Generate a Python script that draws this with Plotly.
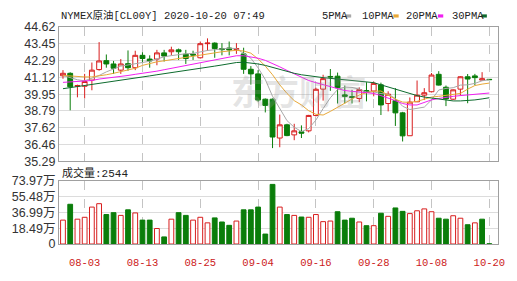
import plotly.graph_objects as go

dates = ["07-29", "07-30", "07-31", "08-03", "08-04", "08-05", "08-06", "08-07", "08-10", "08-11",
         "08-12", "08-13", "08-14", "08-17", "08-18", "08-19", "08-20", "08-21", "08-24", "08-25",
         "08-26", "08-27", "08-28", "08-31", "09-01", "09-02", "09-03", "09-04", "09-07", "09-08",
         "09-09", "09-10", "09-11", "09-14", "09-15", "09-16", "09-17", "09-18", "09-21", "09-22",
         "09-23", "09-24", "09-25", "09-28", "09-29", "09-30", "10-01", "10-02", "10-05", "10-06",
         "10-07", "10-08", "10-09", "10-12", "10-13", "10-14", "10-15", "10-16", "10-19", "10-20"]

open_ = [41.23, 41.40, 40.50, 40.50, 40.93, 41.66, 42.28, 42.05, 41.62, 42.07,
         41.79, 42.65, 42.39, 42.39, 42.82, 42.90, 43.03, 42.73, 42.73, 42.48,
         43.46, 43.50, 43.12, 43.16, 43.05, 42.75, 41.68, 41.36, 39.60, 39.60,
         36.90, 37.82, 37.12, 37.33, 37.40, 38.47, 40.30, 41.18, 41.20, 39.90,
         39.78, 39.65, 40.20, 40.17, 40.60, 39.30, 39.50, 38.65, 37.06, 39.42,
         39.88, 40.12, 41.33, 40.43, 39.60, 40.30, 41.16, 41.22, 40.93, 40.98]
high = [41.62, 41.47, 40.61, 41.36, 42.15, 43.57, 42.71, 42.26, 42.39, 42.99,
        42.97, 42.86, 42.65, 43.03, 43.03, 43.25, 43.12, 43.03, 42.97, 43.61,
        43.83, 43.55, 43.50, 43.61, 43.50, 43.18, 41.90, 41.62, 39.65, 39.65,
        38.53, 37.89, 37.89, 37.78, 38.51, 40.40, 41.30, 41.70, 41.45, 40.55,
        40.25, 40.42, 40.78, 40.82, 40.75, 40.15, 40.37, 38.72, 39.72, 40.90,
        40.37, 41.42, 41.55, 40.55, 40.28, 41.20, 41.35, 41.36, 41.48, 41.00]
low = [41.02, 38.83, 39.73, 39.65, 40.22, 41.58, 41.79, 41.36, 41.36, 41.58,
       41.62, 42.11, 41.79, 41.96, 42.22, 42.65, 42.33, 42.05, 42.33, 42.43,
       42.97, 42.48, 42.65, 42.65, 42.75, 41.36, 40.61, 39.43, 38.68, 36.20,
       36.26, 37.03, 36.75, 36.90, 37.29, 38.40, 39.50, 40.18, 39.30, 39.30,
       39.30, 39.40, 39.45, 39.80, 38.50, 38.75, 37.74, 36.66, 37.06, 39.40,
       39.54, 40.07, 40.55, 39.12, 39.54, 39.85, 39.32, 40.58, 40.90, 40.95]
close = [41.40, 40.46, 40.55, 40.83, 41.62, 42.26, 42.05, 41.75, 42.05, 41.79,
         42.65, 42.43, 42.26, 42.82, 42.60, 43.03, 42.90, 42.43, 42.67, 43.46,
         43.50, 43.12, 43.05, 43.02, 43.12, 41.68, 41.36, 39.54, 39.17, 36.97,
         37.82, 37.07, 37.40, 37.24, 38.47, 40.29, 41.03, 41.15, 40.40, 39.80,
         39.72, 40.27, 40.07, 40.70, 39.20, 39.95, 38.65, 37.05, 39.40, 39.88,
         40.05, 41.28, 40.58, 39.62, 40.25, 41.16, 41.00, 41.10, 41.02, 40.96]

# volume in 万
volume = [27.9, 46.4, 29.0, 31.2, 43.1, 47.1, 34.4, 36.6, 33.4, 39.9,
          36.3, 27.9, 27.9, 18.1, 8.3, 29.0, 36.6, 33.4, 27.9, 31.2,
          24.7, 30.5, 25.7, 21.8, 26.8, 39.9, 39.9, 43.1, 11.6, 69.6,
          43.1, 34.4, 33.4, 31.5, 31.2, 34.4, 26.1, 26.8, 37.7, 27.9,
          30.1, 25.7, 21.4, 21.4, 35.9, 32.3, 42.1, 38.1, 35.5, 38.8,
          41.0, 37.7, 30.1, 29.0, 33.0, 30.1, 22.5, 24.7, 29.0, 0.2544]

ma5 = [41.25, 41.10, 40.95, 40.88, 41.05, 41.25, 41.50, 41.70, 41.90, 41.98,
       42.06, 42.13, 42.24, 42.39, 42.55, 42.63, 42.72, 42.76, 42.78, 42.90,
       42.99, 43.04, 43.12, 43.15, 43.12, 42.80, 42.45, 41.78, 40.97, 39.80,
       38.97, 38.11, 37.65, 37.35, 37.55, 38.15, 38.95, 39.70, 40.27, 40.45,
       40.42, 40.30, 40.10, 40.11, 39.99, 39.95, 39.65, 39.11, 38.88, 38.95,
       39.05, 39.55, 40.24, 40.35, 40.40, 40.58, 40.60, 40.70, 40.88, 40.95]
ma10 = [41.25, 41.20, 41.15, 41.15, 41.15, 41.20, 41.30, 41.40, 41.50, 41.60,
        41.75, 41.95, 42.10, 42.20, 42.27, 42.35, 42.45, 42.55, 42.60, 42.67,
        42.75, 42.82, 42.90, 42.95, 43.00, 42.95, 42.80, 42.40, 41.90, 41.30,
        40.60, 40.00, 39.50, 39.20, 38.80, 38.55, 38.50, 38.75, 39.05, 39.30,
        39.65, 39.90, 40.05, 40.15, 40.17, 39.90, 39.60, 39.40, 39.38, 39.45,
        39.60, 39.75, 39.80, 39.85, 39.90, 40.00, 40.30, 40.55, 40.65, 40.72]
ma20 = [40.77, 40.80, 40.83, 40.86, 40.90, 41.00, 41.05, 41.10, 41.20, 41.25,
        41.33, 41.40, 41.45, 41.55, 41.65, 41.75, 41.85, 41.95, 42.05, 42.15,
        42.25, 42.35, 42.45, 42.55, 42.62, 42.62, 42.55, 42.45, 42.30, 42.10,
        41.85, 41.60, 41.35, 41.10, 40.90, 40.75, 40.60, 40.45, 40.30, 40.20,
        40.15, 40.10, 40.05, 40.00, 39.85, 39.70, 39.50, 39.30, 39.20, 39.20,
        39.40, 39.55, 39.65, 39.75, 39.80, 39.85, 39.90, 39.95, 40.00, 40.03]
ma30 = [40.33, 40.40, 40.47, 40.55, 40.62, 40.70, 40.77, 40.85, 40.92, 41.00,
        41.07, 41.15, 41.22, 41.30, 41.37, 41.43, 41.50, 41.58, 41.66, 41.74,
        41.82, 41.90, 41.98, 42.06, 42.15, 42.17, 42.12, 42.05, 41.95, 41.80,
        41.65, 41.50, 41.40, 41.30, 41.22, 41.15, 41.10, 41.05, 41.00, 40.95,
        40.90, 40.85, 40.80, 40.75, 40.60, 40.45, 40.30, 40.15, 39.95, 39.85,
        39.75, 39.68, 39.60, 39.52, 39.48, 39.48, 39.50, 39.55, 39.62, 39.70]

price_ticks = [35.29, 36.46, 37.62, 38.79, 39.95, 41.12, 42.29, 43.45, 44.62]
vol_ticks = [0, 18.49, 36.99, 55.48, 73.97]
vol_tick_text = ["0", "18.49万", "36.99万", "55.48万", "73.97万"]
date_ticks = ["08-03", "08-13", "08-25", "09-04", "09-16", "09-28", "10-08", "10-20"]

ma_names = ["5PMA", "10PMA", "20PMA", "30PMA"]
ma_colors = ["#a8a8a8", "#e8a838", "#f020f0", "#0d6b2e"]

RED = "#d81e1e"
GREEN = "#0a7d0a"

W, H = 517, 281
ML, MR, MT, MB = 52, 12, 27, 20
PW = W - ML - MR
PH = H - MT - MB


def px_x(x):
    return (x - ML) / PW


def px_y(y):
    return (H - MB - y) / PH


fig = go.Figure()

fig.add_trace(go.Candlestick(
    x=dates, open=open_, high=high, low=low, close=close,
    increasing=dict(line=dict(color=RED, width=1), fillcolor="white"),
    decreasing=dict(line=dict(color=GREEN, width=1), fillcolor=GREEN),
    whiskerwidth=0, xaxis="x", yaxis="y", showlegend=False, hoverinfo="skip"))

for name, vals, col in zip(ma_names, [ma5, ma10, ma20, ma30], ma_colors):
    fig.add_trace(go.Scatter(x=dates, y=vals, mode="lines", name=name,
                             line=dict(color=col, width=1), xaxis="x", yaxis="y",
                             showlegend=False, hoverinfo="skip"))

# volume colour follows close vs previous close
up = [True] + [close[i] >= close[i - 1] for i in range(1, len(close))]
fig.add_trace(go.Bar(
    x=dates, y=volume, width=0.66,
    marker=dict(color=["white" if u else GREEN for u in up],
                line=dict(color=[RED if u else GREEN for u in up], width=1)),
    xaxis="x2", yaxis="y2", showlegend=False, hoverinfo="skip"))

frame = "#a0a0a0"
grid = "#dcdcdc"
vgrid = "#c4c4c4"
tickfont = dict(family="Liberation Sans, Noto Sans CJK SC, sans-serif", size=12.5, color="#333333")

common_x = dict(type="category", range=[-0.55, 60.2], tickmode="array", tickvals=date_ticks,
                showgrid=True, gridcolor=vgrid, griddash="dash", gridwidth=1,
                showline=True, mirror=True, linecolor=frame, linewidth=1,
                ticks="", zeroline=False, fixedrange=True)

fig.update_layout(
    width=W, height=H,
    margin=dict(l=ML, r=MR, t=MT, b=MB),
    paper_bgcolor="white", plot_bgcolor="white",
    showlegend=False,
    boxgap=0.33, boxgroupgap=0,
    xaxis=dict(**common_x, domain=[0, 1], anchor="y", showticklabels=False,
               rangeslider=dict(visible=False)),
    xaxis2=dict(**common_x, domain=[0, 1], anchor="y2", matches="x", showticklabels=True,
                ticklabelstandoff=8,
                tickfont=dict(family="Liberation Mono, monospace", size=10.5, color="#cc1a1a")),
    yaxis=dict(domain=[px_y(171.7), 1], range=[price_ticks[0], price_ticks[-1]],
               tickmode="array", tickvals=price_ticks, ticktext=[f"{v:.2f}" for v in price_ticks],
               showgrid=True, gridcolor=grid, showline=True, mirror=True, linecolor=frame,
               zeroline=False, ticks="", tickfont=tickfont, fixedrange=True),
    yaxis2=dict(domain=[0, px_y(192.7)], range=[0, vol_ticks[-1]],
                tickmode="array", tickvals=vol_ticks, ticktext=vol_tick_text,
                showgrid=True, gridcolor=grid, showline=True, mirror=True, linecolor=frame,
                zeroline=False, ticks="", tickfont=tickfont, fixedrange=True),
)

mono = "Liberation Mono, Noto Sans CJK SC, monospace"
ann = [
    dict(text="NYMEX原油[CL00Y] 2020-10-20 07:49", x=px_x(52), y=px_y(15),
         xanchor="left", yanchor="middle", font=dict(family=mono, size=10.5, color="#222222")),
    dict(text="成交量:2544", x=px_x(53), y=px_y(184),
         xanchor="left", yanchor="middle", font=dict(family=mono, size=11, color="#222222")),
    dict(text="<b>东方财富</b>", x=px_x(300), y=px_y(96), xanchor="center", yanchor="middle",
         font=dict(family="Noto Sans CJK SC", size=34, color="rgba(150,150,150,0.25)")),
]
legend_text_x = [321, 363, 408, 455]
legend_box_x = [348, 397, 443, 488]
shapes = []
for name, col, tx, bx in zip(ma_names, ma_colors, legend_text_x, legend_box_x):
    ann.append(dict(text=name, x=px_x(tx), y=px_y(15), xanchor="left", yanchor="middle",
                    font=dict(family=mono, size=10.5, color="#222222")))
    shapes.append(dict(type="rect", xref="paper", yref="paper",
                       x0=px_x(bx), x1=px_x(bx + 5.5), y0=px_y(16.8), y1=px_y(13.4),
                       fillcolor=col, line=dict(width=0)))
for a in ann:
    a.update(xref="paper", yref="paper", showarrow=False)
fig.update_layout(annotations=ann, shapes=shapes)

fig.write_html("out.html")
